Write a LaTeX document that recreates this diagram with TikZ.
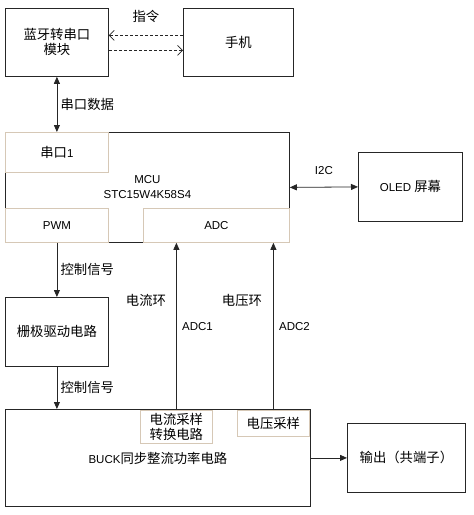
\documentclass[tikz,border=0pt]{standalone}
\usepackage{fontspec}
\setmainfont{Liberation Sans}
\newfontfamily\zh{Noto Sans CJK SC}[Scale=1.16]
\usetikzlibrary{arrows.meta}
\definecolor{subedge}{RGB}{214,200,182}

\begin{document}
\begin{tikzpicture}[x=1pt, y=-1pt,
        font=\fontsize{11.5}{15}\selectfont,
        blk/.style={draw=black!85, line width=0.8pt, fill=white, anchor=north west,
            inner sep=0pt, align=center},
        subblk/.style={blk, draw=subedge},
        arr/.style={draw=black!85, line width=0.8pt, -{Triangle[length=7pt, width=6pt]}},
        dblarr/.style={arr, {Triangle[length=7pt, width=6pt]}-{Triangle[length=7pt, width=6pt]}},
        dasharr/.style={draw=black!85, line width=0.7pt, dash pattern=on 3pt off 2pt,
            -{Straight Barb[length=5pt, width=10pt]}}]
        \useasboundingbox (0,0) rectangle (474,515);
        \node [blk, minimum width=103pt, minimum height=68pt] (bt) at (5,8) {\zh 蓝牙转串口\\\zh 模块};
        \node [blk, minimum width=110pt, minimum height=68pt] (phone) at (183,8) {\zh 手机};
        \node [blk, minimum width=284pt, minimum height=110pt] (mcu) at (5,132) {MCU\\STC15W4K58S4};
        \node [subblk, minimum width=103pt, minimum height=40pt] (port) at (5,132) {{\zh 串口}1};
        \node [subblk, minimum width=103pt, minimum height=34pt] (pwm) at (5,208) {PWM};
        \node [subblk, minimum width=146pt, minimum height=34pt] (adc) at (143,208) {ADC};
        \node [blk, minimum width=104pt, minimum height=69pt] (oled) at (358,152) {OLED {\zh 屏幕}};
        \node [blk, minimum width=103pt, minimum height=69pt] (gate) at (5,297) {\zh 栅极驱动电路};
        \node [blk, minimum width=305pt, minimum height=97pt] (buck) at (5,409) {BUCK{\zh 同步整流功率电路}};
        \node [subblk, minimum width=72pt, minimum height=33pt] (isense) at (140,410) {\zh 电流采样\\\zh 转换电路};
        \node [subblk, minimum width=72pt, minimum height=26pt] (vsense) at (237,410) {\zh 电压采样};
        \node [blk, minimum width=118pt, minimum height=69pt] (out) at (347,423) {\zh 输出（共端子）};
        \node (iloop) at (146,300) {\zh 电流环};
        \node (vloop) at (242,300) {\zh 电压环};

        \draw [dasharr] ([yshift=7pt]phone.west) -- ([yshift=7pt]bt.east) node[pos=0.5,
            anchor=south, yshift=9pt]{\zh 指令};
        \draw [dasharr] ([yshift=-8pt]bt.east) -- ([yshift=-8pt]phone.west);
        \draw [dblarr] (bt.south) -- (port.north) node[pos=0.5,
            anchor=west]{\zh 串口数据};
        \draw [dblarr] (mcu.east) -- (oled.west) node[pos=0.5,
            anchor=south, yshift=9pt]{I2C};
        \draw [arr] (pwm.south) -- (gate.north) node[pos=0.5, anchor=west]{\zh 控制信号};
        \draw [arr] (gate.south) -- (gate.south |- buck.north) node[pos=0.5,
            anchor=west]{\zh 控制信号};
        \draw [arr] (isense.north) -- (isense.north |- adc.south) node[pos=0.5,
            anchor=west, xshift=2pt]{ADC1};
        \draw [arr] (vsense.north) -- (vsense.north |- adc.south) node[pos=0.5,
            anchor=west, xshift=2pt]{ADC2};
        \draw [arr] (buck.east) -- (out.west);
    \end{tikzpicture}
\end{document}
